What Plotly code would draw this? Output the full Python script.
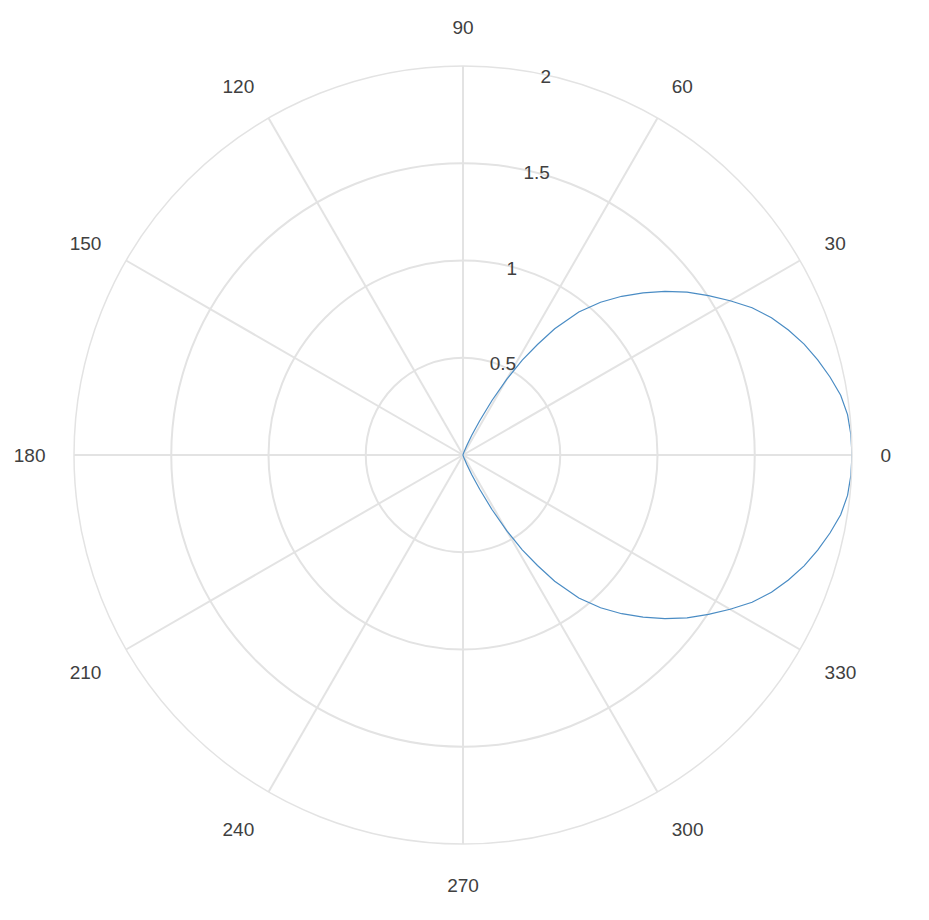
import plotly.graph_objects as go

# Values (angle in degrees, radius)
theta_deg = [-90, -80, -74, -70, -68, -66, -64, -62, -60, -58, -56, -54, -51, -48,
             -45, -42, -39, -36, -33, -30, -27, -24, -21, -18, -15, -12, -9, -6, -3,
             0,
             3, 6, 9, 12, 15, 18, 21, 24, 27, 30, 33, 36, 39, 42, 45,
             48, 51, 54, 56, 58, 60, 62, 64, 66, 68, 70, 74, 80, 90]
r_vals = [0.0, 0.003, 0.010, 0.025, 0.054, 0.111, 0.196, 0.319, 0.449, 0.575, 0.685,
          0.802, 0.946, 1.057, 1.154, 1.246, 1.336, 1.424, 1.505, 1.586, 1.668, 1.736,
          1.792, 1.844, 1.888, 1.929, 1.966, 1.988, 1.997,
          2.0,
          1.997, 1.988, 1.966, 1.929, 1.888, 1.844, 1.792, 1.736, 1.668, 1.586, 1.505,
          1.424, 1.336, 1.246, 1.154, 1.057, 0.946, 0.802, 0.685, 0.575, 0.449, 0.319,
          0.196, 0.111, 0.054, 0.025, 0.010, 0.003, 0.0]

angular_ticks = [0, 30, 60, 90, 120, 150, 180, 210, 240, 270, 300, 330]
angular_labels = [str(a) for a in angular_ticks]
radial_ticks = [0.5, 1, 1.5, 2]
radial_labels = ["0.5", "1", "1.5", "2"]

fig = go.Figure()
fig.add_trace(go.Scatterpolar(
    r=r_vals, theta=theta_deg, mode="lines",
    line=dict(color="#4a8cc4", width=1.2),
    showlegend=False, hoverinfo="skip",
))

W, H = 929, 920
off = 8  # page body margin
cx, cy, R = 463 - off, 455 - off, 389
fig.update_layout(
    width=W, height=H,
    margin=dict(l=0, r=0, t=0, b=0),
    paper_bgcolor="white",
    font=dict(family="Liberation Sans, Arial, sans-serif", size=19, color="#404040"),
    polar=dict(
        domain=dict(x=[(cx - R) / W, (cx + R) / W],
                    y=[(H - cy - R) / H, (H - cy + R) / H]),
        bgcolor="white",
        angularaxis=dict(
            rotation=0, direction="counterclockwise",
            tickmode="array", tickvals=angular_ticks, ticktext=angular_labels,
            showline=True, linecolor="#e3e3e3", linewidth=1.5,
            showgrid=True, gridcolor="#e3e3e3", gridwidth=1.5,
            ticks="outside", ticklen=24, tickcolor="rgba(0,0,0,0)",
            tickfont=dict(size=19, color="#404040"),
        ),
        radialaxis=dict(
            range=[0, 2], angle=80,
            tickmode="array", tickvals=radial_ticks, ticktext=radial_labels,
            showline=False, showgrid=True, gridcolor="#e3e3e3", gridwidth=1.5,
            ticks="", tickangle=80,
            tickfont=dict(size=19, color="#404040"),
        ),
    ),
)

fig.write_html("out.html")
